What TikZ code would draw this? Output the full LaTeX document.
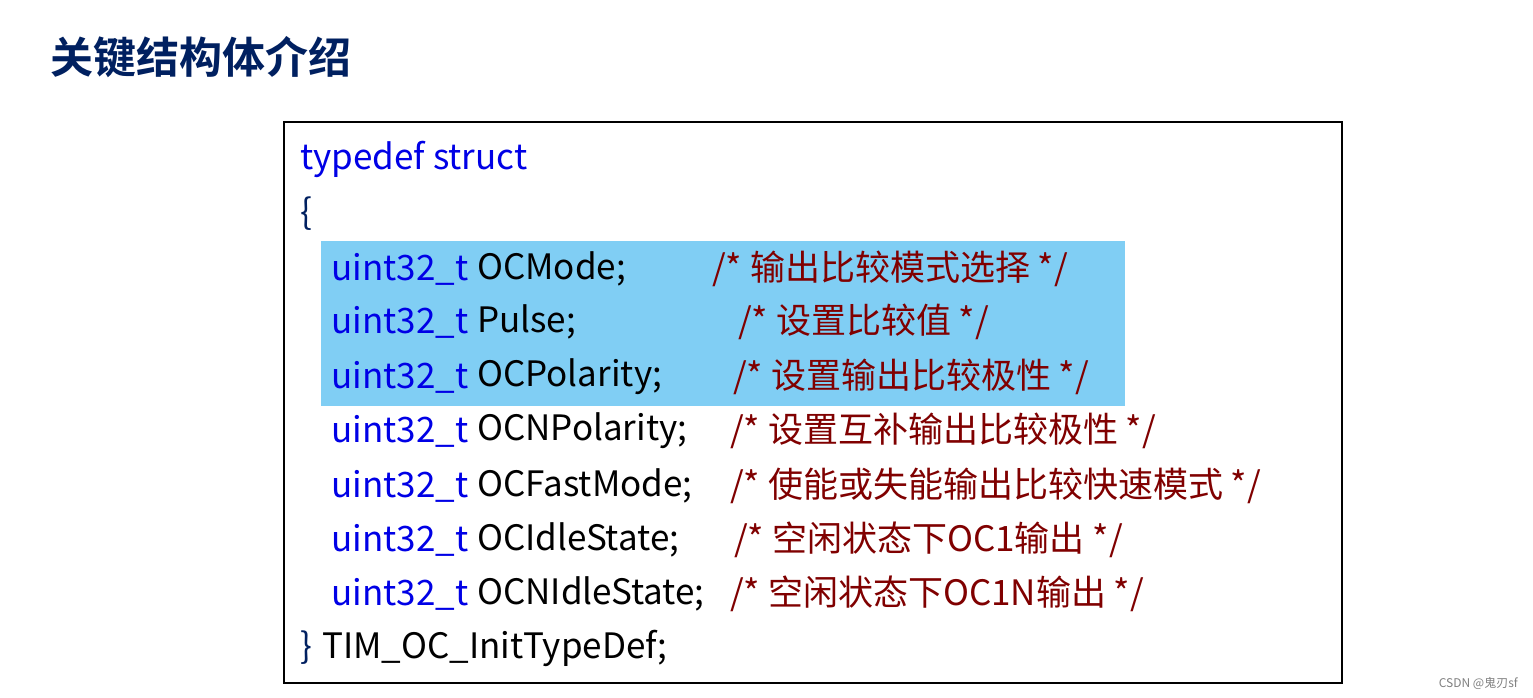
\documentclass[tikz,border=0pt]{standalone}
\usepackage{fontspec}
\newfontfamily\cjk{Noto Sans CJK SC}
\newfontfamily\cjkb{Noto Sans CJK SC Bold}
\definecolor{navy}{RGB}{0,32,96}
\definecolor{kw}{RGB}{0,0,230}
\definecolor{cm}{RGB}{128,0,0}
\definecolor{hl}{RGB}{128,206,244}
\begin{document}
\begin{tikzpicture}[x=1pt,y=-1pt,
  code/.style={anchor=west,inner sep=0pt,font=\cjk\fontsize{35}{38}\selectfont},
  kwd/.style={code,text=kw},
  mem/.style={code,text=black},
  cmt/.style={code,text=cm}]
\useasboundingbox (0,0) rectangle (1533,698);
\fill[white] (0,0) rectangle (1533,698);
\node[anchor=west,inner sep=0pt,text=navy,font=\cjkb\fontsize{43}{46}\selectfont] (title) at (50,57) {关键结构体介绍};
\draw[line width=1.5pt] (284,122) rectangle (1342,683);
\fill[hl] (321,241) rectangle (1125,406);
\node[kwd] (t1) at (300,159) {typedef struct};
\node[code,text=navy] (ob) at (300,214) {\{};
\foreach \y/\m/\cx/\c [count=\i] in {
 269/OCMode;/712/{/* 输出比较模式选择 */},
 322/Pulse;/738/{/* 设置比较值 */},
 377/OCPolarity;/733/{/* 设置输出比较极性 */},
 431/OCNPolarity;/730/{/* 设置互补输出比较极性 */},
 486/OCFastMode;/730/{/* 使能或失能输出比较快速模式 */},
 540/OCIdleState;/734/{/* 空闲状态下OC1输出 */},
 594/OCNIdleState;/730/{/* 空闲状态下OC1N输出 */}}{
  \node[kwd] (u\i) at (331,\y) {uint32\_t};
  \node[mem] (m\i) at (477,\y) {\m};
  \node[cmt] (c\i) at (\cx,\y) {\c};
}
\node[code,text=navy] (cb) at (300,648) {\}};
\node[mem] (td) at (322,648) {TIM\_OC\_InitTypeDef;};
\node[anchor=east,inner sep=0pt,text=gray,font=\cjk\fontsize{12}{14}\selectfont] (wm) at (1518,683) {CSDN @鬼刃sf};
\end{tikzpicture}
\end{document}
